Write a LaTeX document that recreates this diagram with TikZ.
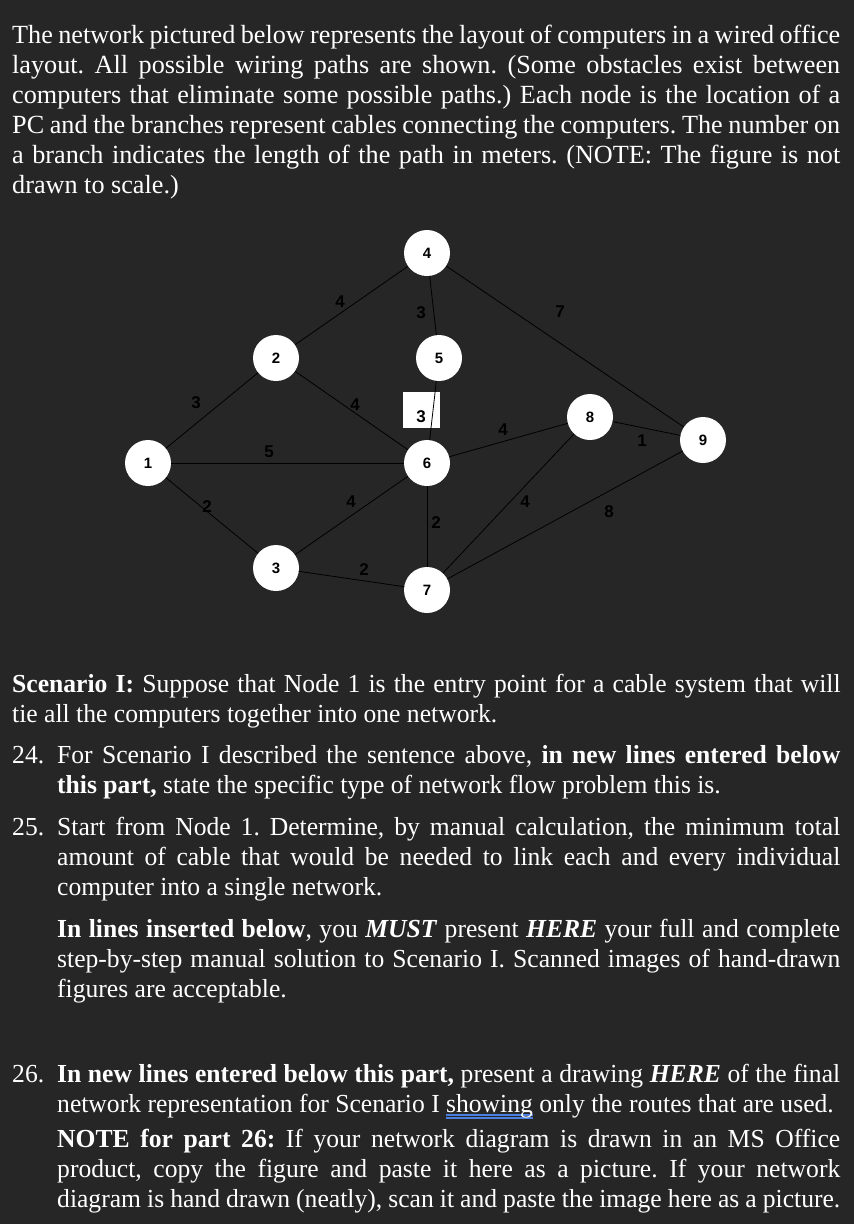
\documentclass[tikz,border=0pt]{standalone}
\usepackage{fontspec}
\setmainfont{Liberation Serif}
\newfontfamily\arialf{Liberation Sans}
\usepackage{graphicx}
\definecolor{bg}{HTML}{262626}
\definecolor{spell}{HTML}{4A7FE0}
\newcommand\spellu[1]{\setbox0\hbox{#1}\rlap{\color{spell}\rule[-3.5pt]{\wd0}{1.1pt}}\rlap{\color{spell}\rule[-6.5pt]{\wd0}{1.1pt}}#1}
\begin{document}
\begin{tikzpicture}[x=1pt,y=-1pt,
  pc/.style={circle,fill=white,minimum size=46pt,inner sep=0pt,font=\arialf\bfseries\fontsize{15}{15}\selectfont,text=black},
  wt/.style={font=\arialf\bfseries\fontsize{17}{17}\selectfont,text=black,inner sep=0pt},
  cable/.style={draw=black,line width=0.8pt},
  txt/.style={anchor=base west,inner sep=0pt,text=white}]
\fill[bg] (0,0) rectangle (854,1224);
\useasboundingbox (0,0) rectangle (854,1224);
% top text
\node[txt] (intro) at (12,43) {\parbox[t]{828pt}{\fontsize{26.2}{30}\selectfont\frenchspacing\hyphenpenalty=10000\sloppy The network pictured below represents the layout of computers in a wired office layout. All possible wiring paths are shown. (Some obstacles exist between computers that eliminate some possible paths.) Each node is the location of a PC and the branches represent cables connecting the computers. The number on\linebreak a branch indicates the length of the path in meters. (NOTE: The figure is not drawn to scale.)}};
% graph
\node[pc] (n1) at (148,463) {1};
\node[pc] (n2) at (276,358) {2};
\node[pc] (n3) at (276,568) {3};
\node[pc] (n4) at (427,253) {4};
\node[pc] (n5) at (439,358) {5};
\node[pc] (n6) at (427,463) {6};
\node[pc] (n7) at (427,590) {7};
\node[pc] (n8) at (590,417) {8};
\node[pc] (n9) at (703,440) {9};
\draw[cable] (n1)--(n2); \draw[cable] (n1)--(n6); \draw[cable] (n1)--(n3);
\draw[cable] (n2)--(n4); \draw[cable] (n2)--(n6);
\draw[cable] (n3)--(n6); \draw[cable] (n3)--(n7);
\draw[cable] (n4)--(n5); \draw[cable] (n4)--(n9);
\draw[cable] (n6)--(n7); \draw[cable] (n6)--(n8);
\draw[cable] (n7)--(n8); \draw[cable] (n7)--(n9); \draw[cable] (n8)--(n9);
\node[fill=white,minimum width=37pt,minimum height=36pt,inner sep=0pt] (box) at (421.5,410) {};
\draw[cable] (n5)--(n6);
\node[wt] at (421,417) {3};
\node[wt] at (340,302) {4};
\node[wt] at (421,313) {3};
\node[wt] at (560,312) {7};
\node[wt] at (196,403) {3};
\node[wt] at (355,405) {4};
\node[wt] at (269,452) {5};
\node[wt] at (207,507) {2};
\node[wt] at (351,502) {4};
\node[wt] at (436,523) {2};
\node[wt] at (364,570) {2};
\node[wt] at (503,430) {4};
\node[wt] at (525,502) {4};
\node[wt] at (642,441) {1};
\node[wt] at (609,512) {8};
% lower text
\newcommand\lowpar[2]{\scalebox{0.985}[1]{\parbox[t]{#1}{\fontsize{26}{30}\selectfont\frenchspacing\hyphenpenalty=10000\sloppy #2}}}
\newcommand\lownum[1]{\scalebox{0.985}[1]{\fontsize{26}{30}\selectfont #1}}
\node[txt] (scen) at (12,692) {\lowpar{841pt}{\textbf{Scenario I:} Suppose that Node 1 is the entry point for a cable system that will\linebreak tie all the computers together into one network.}};
\node[txt] (q24n) at (12,763) {\lownum{24.}};
\node[txt] (q24) at (57,763) {\lowpar{795pt}{For Scenario I described the sentence above, \textbf{in new lines entered below\linebreak this part,} state the specific type of network flow problem this is.}};
\node[txt] (q25n) at (12,835) {\lownum{25.}};
\node[txt] (q25) at (57,835) {\lowpar{795pt}{Start from Node 1. Determine, by manual calculation, the minimum total\linebreak amount of cable that would be needed to link each and every individual\linebreak computer into a single network.}};
\node[txt] (q25b) at (57,937) {\lowpar{795pt}{\textbf{In lines inserted below}, you \textbf{\textit{MUST}} present \textbf{\textit{HERE}} your full and complete\linebreak step-by-step manual solution to Scenario I. Scanned images of hand-drawn\linebreak figures are acceptable.}};
\node[txt] (q26n) at (12,1082) {\lownum{26.}};
\node[txt] (q26) at (57,1082) {\lowpar{795pt}{\textbf{In new lines entered below this part,} present a drawing \textbf{\textit{HERE}} of the final\linebreak network representation for Scenario I \spellu{showing} only the routes that are used.}};
\node[txt] (q26b) at (57,1147) {\lowpar{795pt}{\textbf{NOTE for part 26:} If your network diagram is drawn in an MS Office\linebreak product, copy the figure and paste it here as a picture. If your network\linebreak diagram is hand drawn (neatly), scan it and paste the image here as a picture.}};
\end{tikzpicture}
\end{document}
